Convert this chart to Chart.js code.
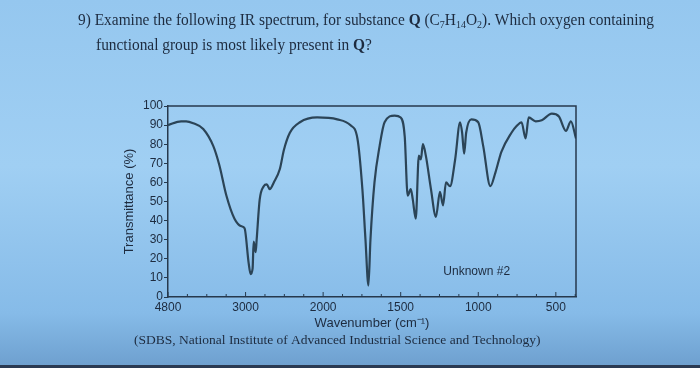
<!DOCTYPE html>
<html>
<head>
<meta charset="utf-8">
<script src="https://cdn.jsdelivr.net/npm/chart.js@4.4.1/dist/chart.umd.min.js"></script>
<style>
  html, body { margin: 0; padding: 0; background: #93c5ee; }
  #wrap { width: 700px; height: 368px; }
</style>
</head>
<body>
<div id="wrap"><canvas id="irChart" width="700" height="368"></canvas></div>
<script>
(function () {
    'use strict';

    // wavenumbers (cm-1), left to right
    const wavenumbers = [4800, 4496, 4379, 4215, 3982, 3748, 3608, 3444, 3257, 3094,
        3023, 2961, 2935, 2909, 2896, 2870, 2857, 2818, 2766, 2727,
        2688, 2636, 2558, 2506, 2429, 2299, 2078, 1909, 1825, 1779,
        1747, 1727, 1708, 1695, 1669, 1636, 1604, 1539, 1500, 1474,
        1455, 1435, 1422, 1403, 1383, 1370, 1357, 1338, 1305, 1273,
        1247, 1227, 1208, 1182, 1149, 1117, 1104, 1091, 1078, 1045,
        1000, 968, 922, 890, 851, 786, 753, 721, 695, 675,
        630, 591, 526, 480, 435, 403, 370];
    // transmittance (%)
    const transmittance = [90, 92, 92, 91, 88, 79, 69, 53, 41, 37,
        36, 18, 12, 15, 29, 23.5, 30, 51, 58, 59,
        56.5, 60, 67, 77, 86, 91.5, 94, 93, 90, 83,
        56.5, 30, 6, 30, 60, 79, 91.5, 95, 94, 84,
        53, 56.5, 51, 41, 74, 72, 80, 74, 56.5, 42,
        55, 48, 60, 58, 72, 91.5, 86, 75, 86, 93,
        91.5, 79, 58, 65, 76, 86, 89.5, 91.5, 83, 94,
        92, 92.5, 96, 94.5, 87, 92, 83];
    const xTickLabels = [4800, 3000, 2000, 1500, 1000, 500];
    const yTickStep = 10;

    const INK = '#1d2b3f';
    const FRAME = '#26394d';
    const TRACE = '#2b4457';
    const SANS = "'Liberation Sans', Arial, sans-serif";

    // the printed axis is not linear: each labelled interval gets the same width
    function toAxis(w) {
        if (w >= 3000) return (4800 - w) / 1800;
        if (w >= 2000) return 1 + (3000 - w) / 1000;
        return 2 + (2000 - w) / 500;
    }

    const points = wavenumbers.map((w, i) => ({ x: toAxis(w), y: transmittance[i] }));

    // draws mixed runs (bold / subscript) of serif text, squeezed horizontally by sx
    function drawRuns(ctx, runs, x, y, size, sx) {
        ctx.save();
        ctx.translate(x, y);
        ctx.scale(sx, 1);
        let cx = 0;
        runs.forEach(r => {
            const fs = r.sub ? Math.round(size * 0.62) : size;
            ctx.font = (r.b ? 'bold ' : '') + fs + "px 'Liberation Serif', 'Times New Roman', serif";
            ctx.fillText(r.t, cx, r.sub ? size * 0.22 : 0);
            cx += ctx.measureText(r.t).width;
        });
        ctx.restore();
    }

    const paperPlugin = {
        id: 'paper',
        beforeDraw(chart) {
            const ctx = chart.ctx;
            const g = ctx.createLinearGradient(0, 0, 0, chart.height);
            g.addColorStop(0, '#95c7ef');
            g.addColorStop(0.45, '#a0cff3');
            g.addColorStop(0.85, '#86bbe8');
            g.addColorStop(1, '#6d9fce');
            ctx.save();
            ctx.fillStyle = g;
            ctx.fillRect(0, 0, chart.width, chart.height);
            ctx.fillStyle = '#2a3a52';
            ctx.fillRect(0, chart.height - 3, chart.width, 3);
            ctx.restore();
        },
        afterDatasetsDraw(chart) {
            const ctx = chart.ctx;
            const a = chart.chartArea;
            const xs = chart.scales.x;
            ctx.save();
            ctx.strokeStyle = FRAME;
            ctx.lineWidth = 1.5;
            ctx.beginPath();
            ctx.moveTo(a.left, a.top);
            ctx.lineTo(a.right, a.top);
            ctx.lineTo(a.right, a.bottom);
            ctx.stroke();
            // inward ticks along the wavenumber axis
            ctx.lineWidth = 1;
            for (let v = 0; v <= xs.max + 1e-6; v += 0.25) {
                const px = xs.getPixelForValue(v);
                const len = Math.abs(v - Math.round(v)) < 1e-6 ? 5 : 3;
                ctx.beginPath();
                ctx.moveTo(px, a.bottom);
                ctx.lineTo(px, a.bottom - len);
                ctx.stroke();
            }
            ctx.restore();
        },
        afterDraw(chart) {
            const ctx = chart.ctx;
            ctx.save();
            ctx.fillStyle = INK;
            ctx.textBaseline = 'middle';
            drawRuns(ctx, [
                { t: '9) Examine the following IR spectrum, for substance ' },
                { t: 'Q', b: 1 },
                { t: ' (C' }, { t: '7', sub: 1 }, { t: 'H' }, { t: '14', sub: 1 },
                { t: 'O' }, { t: '2', sub: 1 },
                { t: '). Which oxygen containing' }
            ], 78, 21, 17, 0.906);
            drawRuns(ctx, [
                { t: 'functional group is most likely present in ' },
                { t: 'Q', b: 1 },
                { t: '?' }
            ], 96, 46, 17, 0.906);
            drawRuns(ctx, [
                { t: '(SDBS, National Institute of Advanced Industrial Science and Technology)' }
            ], 134, 340, 13.5, 1);

            ctx.font = '12px ' + SANS;
            ctx.textAlign = 'center';
            ctx.fillText('Unknown #2', chart.scales.x.getPixelForValue(toAxis(1010)),
                chart.scales.y.getPixelForValue(13));
            ctx.restore();
        }
    };

    new Chart(document.getElementById('irChart'), {
        type: 'line',
        data: {
            datasets: [{
                data: points,
                borderColor: TRACE,
                borderWidth: 2.2,
                pointRadius: 0,
                fill: false,
                cubicInterpolationMode: 'monotone'
            }]
        },
        options: {
            responsive: false,
            animation: false,
            layout: { padding: { left: 118, top: 106, right: 124, bottom: 33 } },
            plugins: { legend: { display: false }, tooltip: { enabled: false } },
            scales: {
                x: {
                    type: 'linear',
                    min: 0,
                    max: toAxis(370),
                    afterBuildTicks(s) { s.ticks = xTickLabels.map(w => ({ value: toAxis(w) })); },
                    afterFit(s) { s.height = 38; },
                    grid: { display: false, drawTicks: false, tickLength: 0 },
                    border: { display: true, color: FRAME, width: 1.5 },
                    ticks: {
                        autoSkip: false, maxRotation: 0, padding: 3,
                        color: INK,
                        font: { family: SANS, size: 12 },
                        callback: (v, i) => String(xTickLabels[i])
                    },
                    title: {
                        display: true,
                        text: 'Wavenumber (cm\u207B\u00B9)',
                        color: INK,
                        padding: { top: 0, bottom: 4 },
                        font: { family: SANS, size: 13 }
                    }
                },
                y: {
                    min: 0,
                    max: 100,
                    afterFit(s) { s.width = 50; },
                    grid: { drawOnChartArea: false, tickLength: 4, color: FRAME },
                    border: { display: true, color: FRAME, width: 1.5 },
                    ticks: {
                        stepSize: yTickStep, padding: 1,
                        color: INK,
                        font: { family: SANS, size: 12 }
                    },
                    title: {
                        display: true,
                        text: 'Transmittance (%)',
                        color: INK,
                        padding: { top: 4, bottom: 0 },
                        font: { family: SANS, size: 13 }
                    }
                }
            }
        },
        plugins: [paperPlugin]
    });
})();
</script>
</body>
</html>
